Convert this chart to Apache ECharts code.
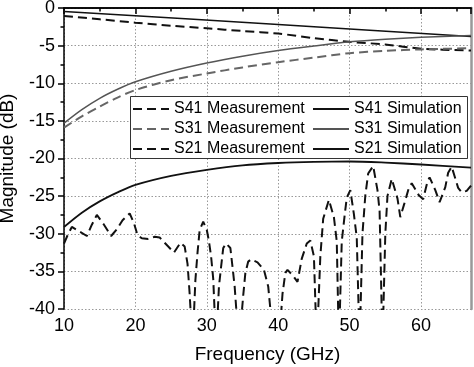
<!DOCTYPE html>
<html><head><meta charset="utf-8">
<script src="https://cdn.jsdelivr.net/npm/echarts@6/dist/echarts.min.js"></script>
<style>html,body{margin:0;padding:0;background:#fff}#c{width:474px;height:367px}</style>
</head><body><div id="c"></div>
<script>
// ---- data ----
var xTicks = [10, 20, 30, 40, 50, 60];
var yTicks = [0, -5, -10, -15, -20, -25, -30, -35, -40];

var s41SimFreq = [10, 40, 67];
var s41SimDb = [-0.45, -2.2, -3.8];

var s41MeasFreq = [10, 15, 20, 25, 30, 35, 40, 45, 50, 55, 60, 67];
var s41MeasDb = [-1.05, -1.5, -1.95, -2.35, -2.7, -3.05, -3.4, -4.0, -4.5, -4.85, -5.4, -5.65];

var s31SimFreq = [10, 12.5, 15, 17.5, 20, 25, 30, 35, 40, 45, 50, 55, 60, 67];
var s31SimDb = [-15.3, -13.5, -12.0, -10.8, -9.8, -8.4, -7.3, -6.4, -5.65, -5.05, -4.5, -4.15, -3.9, -3.65];

var s31MeasFreq = [10, 12.5, 15, 17.5, 20, 25, 30, 35, 40, 45, 50, 55, 60, 67];
var s31MeasDb = [-15.9, -14.4, -13.1, -11.9, -10.9, -9.6, -8.7, -7.9, -7.2, -6.6, -6.0, -5.7, -5.5, -5.35];

var s21SimFreq = [10, 12.5, 15, 17.5, 20, 25, 30, 35, 40, 45, 50, 55, 60, 67];
var s21SimDb = [-29.1, -27.2, -25.7, -24.5, -23.5, -22.3, -21.5, -20.9, -20.6, -20.45, -20.4, -20.55, -20.8, -21.2];

var s21MeasFreq = [10.0, 10.5, 11.1, 12.0, 13.2, 13.9, 14.6, 15.6, 16.6, 17.4, 18.2, 19.2, 19.8, 20.3, 20.9, 21.8, 22.7, 23.4, 24.6, 25.4, 26.3, 26.9, 27.3, 27.6, 28.0,
  28.4, 28.7, 29.0, 29.5, 30.0, 30.3, 30.6, 30.9, 31.3, 31.7, 32.0, 32.3, 32.7, 33.3, 33.6, 33.9, 34.5, 35.1, 35.4, 35.8, 36.2, 37.1, 38.0, 38.6, 39.1, 39.7, 40.3,
  40.6, 41.0, 41.3, 42.1, 42.7, 43.3, 44.0, 44.5, 45.0, 45.4, 45.9, 46.3, 47.1, 47.8, 48.2, 48.5, 48.9, 49.3, 49.6, 50.1, 50.6, 51.0, 51.4, 51.8, 52.2, 52.6, 53.3,
  53.9, 54.2, 54.6, 55.0, 55.3, 55.9, 56.7, 57.1, 57.6, 58.3, 58.7, 59.7, 60.3, 60.9, 61.2, 62.0, 62.6, 63.4, 63.8, 64.3, 65.2, 65.7, 66.4, 67.0];
var s21MeasDb = [-31.3, -30.2, -29.1, -29.6, -30.3, -28.8, -27.5, -28.8, -30.3, -29.4, -28.2, -27.3, -28.6, -30.2, -30.6, -30.7, -30.4, -30.5, -31.7, -32.5, -31.2, -31.7, -34.0, -38.0, -45,
  -36.2, -32.5, -29.5, -28.4, -29.5, -31.0, -33.0, -36.0, -45, -37.0, -34.4, -31.9, -31.3, -31.9, -34.4, -37.0, -45, -38.2, -35.2, -33.7, -33.4, -33.8, -34.8, -37.0, -42, -48, -42,
  -38.0, -35.2, -34.8, -35.6, -36.4, -33.3, -31.3, -30.9, -33.0, -45, -33.0, -28.0, -25.5, -27.8, -31.0, -45, -31.0, -27.6, -25.2, -24.2, -27.4, -30.5, -45, -30.0, -24.9, -22.0, -21.0,
  -24.2, -27.0, -45, -30.0, -25.0, -22.7, -25.3, -27.8, -26.2, -23.9, -23.3, -24.9, -25.4, -23.1, -22.5, -24.2, -25.8, -23.8, -21.9, -21.1, -23.9, -24.5, -24.3, -23.6];

function pairs(xs, ys) { return xs.map(function (x, i) { return [x, ys[i]]; }); }

var FONT = 'Liberation Sans, Arial, sans-serif';
var chart = echarts.init(document.getElementById('c'), null, { renderer: 'canvas' });

function lineSeries(name, xs, ys, color, width, type, smooth) {
  return {
    name: name, type: 'line', xAxisIndex: 0, yAxisIndex: 0,
    data: pairs(xs, ys), showSymbol: false, symbol: 'none', smooth: smooth,
    lineStyle: { color: color, width: width, type: type }, itemStyle: { color: color },
    z: 2, animation: false, silent: true
  };
}
var DASH = [9, 5];

var legendCommon = {
  orient: 'vertical', top: 101, padding: 0, itemGap: 4,
  itemWidth: 36, itemHeight: 14, z: 5,
  itemStyle: { opacity: 0 },
  textStyle: { fontFamily: FONT, fontSize: 16, color: '#000', lineHeight: 16 },
  selectedMode: false
};

chart.setOption({
  animation: false,
  grid: { left: 64, right: 3, top: 8, bottom: 58, containLabel: false, outerBoundsMode: 'none' },
  xAxis: [{
    type: 'value', min: 10, max: 67, interval: 10, position: 'bottom',
    name: 'Frequency (GHz)', nameLocation: 'middle', nameGap: 36,
    nameTextStyle: { fontFamily: FONT, fontSize: 19, color: '#000' },
    axisLine: { show: true, lineStyle: { color: '#000', width: 1.5 } },
    axisTick: { show: true, inside: false, length: 6, lineStyle: { color: '#000', width: 1.5 } },
    axisLabel: { show: true, margin: 8, fontFamily: FONT, fontSize: 18, color: '#000',
      formatter: function (v) { return xTicks.indexOf(v) >= 0 ? String(v) : ''; } },
    splitLine: { show: true, lineStyle: { color: '#999', type: [1.5, 2], width: 1 } }
  }, {
    type: 'value', min: 10, max: 67, interval: 5, position: 'bottom',
    axisLine: { show: false }, axisLabel: { show: false }, splitLine: { show: false },
    axisTick: { show: true, inside: false, length: 3.5, lineStyle: { color: '#000', width: 1.5 } }
  }, {
    type: 'value', min: 10, max: 67, position: 'top',
    axisLine: { show: true, lineStyle: { color: '#000', width: 1.5 } },
    axisTick: { show: false }, axisLabel: { show: false }, splitLine: { show: false }
  }],
  yAxis: [{
    type: 'value', min: -40, max: 0, interval: 5, position: 'left',
    name: 'Magnitude (dB)', nameLocation: 'middle', nameGap: 47,
    nameTextStyle: { fontFamily: FONT, fontSize: 19, color: '#000' },
    axisLine: { show: true, lineStyle: { color: '#000', width: 1.5 } },
    axisTick: { show: true, inside: false, length: 6, lineStyle: { color: '#000', width: 1.5 } },
    minorTick: { show: true, splitNumber: 2, length: 3.5, lineStyle: { color: '#000', width: 1.5 } },
    axisLabel: { show: true, margin: 9, fontFamily: FONT, fontSize: 18, color: '#000',
      formatter: function (v) { return yTicks.indexOf(v) >= 0 ? String(v) : ''; } },
    splitLine: { show: true, lineStyle: { color: '#999', type: [1.5, 2], width: 1 } }
  }, {
    type: 'value', min: -40, max: 0, position: 'right',
    axisLine: { show: true, lineStyle: { color: '#999', width: 2.5 } },
    axisTick: { show: false }, axisLabel: { show: false }, splitLine: { show: false }
  }],
  graphic: [{
    type: 'rect', z: 3, silent: true,
    shape: { x: 130.5, y: 96.5, width: 337, height: 62 },
    style: { fill: '#fff', stroke: '#333', lineWidth: 1 }
  }],
  legend: [
    Object.assign({}, legendCommon, { left: 132, data: ['S41 Measurement', 'S31 Measurement', 'S21 Measurement'] }),
    Object.assign({}, legendCommon, { left: 312, data: ['S41 Simulation', 'S31 Simulation', 'S21 Simulation'] })
  ],
  series: [
    lineSeries('S41 Measurement', s41MeasFreq, s41MeasDb, '#111', 2, DASH, 0.3),
    lineSeries('S41 Simulation', s41SimFreq, s41SimDb, '#111', 1.5, 'solid', 0.3),
    lineSeries('S31 Measurement', s31MeasFreq, s31MeasDb, '#666', 2, DASH, 0.3),
    lineSeries('S31 Simulation', s31SimFreq, s31SimDb, '#555', 1.5, 'solid', 0.3),
    lineSeries('S21 Measurement', s21MeasFreq, s21MeasDb, '#111', 2, DASH, false),
    lineSeries('S21 Simulation', s21SimFreq, s21SimDb, '#111', 1.8, 'solid', 0.3)
  ]
});
</script></body></html>
